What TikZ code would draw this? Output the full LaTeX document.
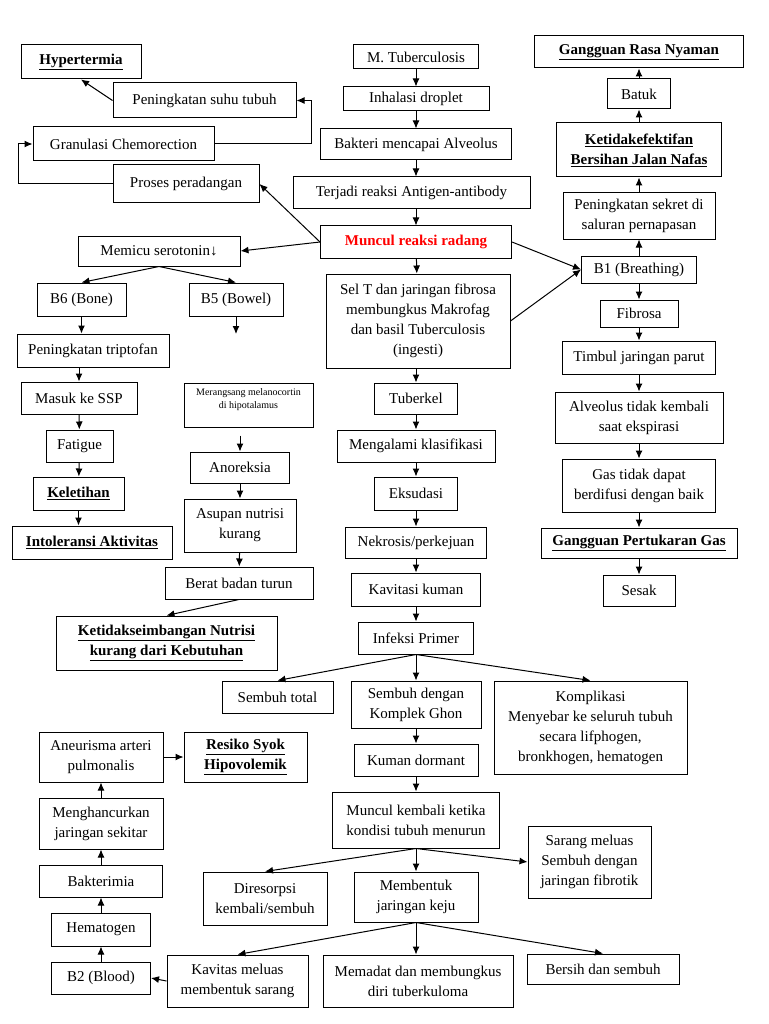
\documentclass[tikz,border=0pt]{standalone}
\usepackage{fontspec}
\setmainfont{Liberation Serif}
\usetikzlibrary{arrows.meta,calc,positioning}
\tikzset{
    >={Latex[length=8pt,width=7pt]}, % filled arrow heads
    every edge/.append style={line width=1pt},
    box/.style={draw, line width=1pt, align=center, inner sep=2pt,
        font=\fontsize{15}{20}\selectfont}, % all the boxes
    small/.style={font=\fontsize{10}{13}\selectfont},
}
\newcommand{\dxtext}[1]{\underline{\textbf{#1}}}

\begin{document}
\begin{tikzpicture}[x=1pt,y=-1pt]
  \useasboundingbox[fill=white] (0,0) rectangle (768,1024);

  % left top part
  \node[box,minimum width=120pt,minimum height=34pt] (hyper) at (81,62) {\dxtext{Hypertermia}};
  \node[box,minimum width=183pt,minimum height=35pt] (suhu) at (204.5,100.5) {Peningkatan suhu tubuh};
  \node[box,minimum width=181pt,minimum height=34pt] (granul) at (123.5,144) {Granulasi Chemorection};
  \node[box,minimum width=146pt,minimum height=38pt] (proses) at (186,184) {Proses peradangan};
  \node[box,minimum width=162pt,minimum height=30pt] (memicu) at (159,251) {Memicu serotonin↓};
  \node[box,minimum width=89pt,minimum height=33pt] (b6) at (81.5,299.5) {B6 (Bone)};
  \node[box,minimum width=94pt,minimum height=33pt] (b5) at (236,299.5) {B5 (Bowel)};
  \coordinate (b5stub) at (236,334);
  \node[box,minimum width=152pt,minimum height=33pt] (tript) at (93,350.5) {Peningkatan triptofan};
  \node[box,minimum width=116pt,minimum height=32pt] (ssp) at (79,398) {Masuk ke SSP};
  \node[box,minimum width=67pt,minimum height=32pt] (fatigue) at (79.5,446) {Fatigue};
  \node[box,minimum width=91pt,minimum height=33pt] (letih) at (78.5,493.5) {\dxtext{Keletihan}};
  \node[box,minimum width=160pt,minimum height=33pt] (intol) at (92,542.5) {\dxtext{Intoleransi Aktivitas}};
  \node[box,small,minimum width=129pt,minimum height=44pt,text depth=12pt] (merang) at (248.5,405) {Merangsang melanocortin\\di hipotalamus};
  \node[box,minimum width=99pt,minimum height=31pt] (anorek) at (240,467.5) {Anoreksia};
  \node[box,minimum width=112pt,minimum height=53pt] (asupan) at (240,525.5) {Asupan nutrisi\\kurang};
  \node[box,minimum width=148pt,minimum height=32pt] (berat) at (239,583) {Berat badan turun};
  \node[box,minimum width=221pt,minimum height=54pt] (nutrisi) at (166.5,643) {\dxtext{Ketidakseimbangan Nutrisi}\\\dxtext{kurang dari Kebutuhan}};

  % central column
  \node[box,minimum width=125pt,minimum height=24pt] (mtb) at (416,57) {M. Tuberculosis};
  \node[box,minimum width=146pt,minimum height=24pt] (inhal) at (416,99) {Inhalasi droplet};
  \node[box,minimum width=191pt,minimum height=31pt] (bakteri) at (416,144.5) {Bakteri mencapai Alveolus};
  \node[box,minimum width=237pt,minimum height=32pt] (terjadi) at (411.5,193) {Terjadi reaksi Antigen-antibody};
  \node[box,minimum width=191pt,minimum height=32pt,text=red] (radang) at (416,242) {\textbf{Muncul reaksi radang}};
  \node[box,minimum width=184pt,minimum height=94pt] (selt) at (418,321) {Sel T dan jaringan fibrosa\\membungkus Makrofag\\dan basil Tuberculosis\\(ingesti)};
  \node[box,minimum width=83pt,minimum height=31pt] (tuberkel) at (416,398.5) {Tuberkel};
  \node[box,minimum width=158pt,minimum height=32pt] (klasif) at (416,446) {Mengalami klasifikasi};
  \node[box,minimum width=83pt,minimum height=33pt] (eksud) at (416,493.5) {Eksudasi};
  \node[box,minimum width=141pt,minimum height=31pt] (nekrosis) at (416,542.5) {Nekrosis/perkejuan};
  \node[box,minimum width=129pt,minimum height=33pt] (kavitasi) at (416,589.5) {Kavitasi kuman};
  \node[box,minimum width=115pt,minimum height=32pt] (infeksi) at (416,638) {Infeksi Primer};
  \node[box,minimum width=111pt,minimum height=32pt] (stotal) at (277.5,697) {Sembuh total};
  \node[box,minimum width=130pt,minimum height=47pt] (ghon) at (416,704.5) {Sembuh dengan\\Komplek Ghon};
  \node[box,minimum width=193pt,minimum height=93pt] (kompli) at (590.5,727.5) {Komplikasi\\Menyebar ke seluruh tubuh\\secara lifphogen,\\bronkhogen, hematogen};
  \node[box,minimum width=124pt,minimum height=32pt] (dormant) at (416,760) {Kuman dormant};
  \node[box,minimum width=167pt,minimum height=56pt] (kembali) at (416,820) {Muncul kembali ketika\\kondisi tubuh menurun};
  \node[box,minimum width=124pt,minimum height=53pt] (dires) at (265,898.5) {Diresorpsi\\kembali/sembuh};
  \node[box,minimum width=124pt,minimum height=50pt] (keju) at (416,897) {Membentuk\\jaringan keju};
  \node[box,minimum width=123pt,minimum height=72pt] (sarang) at (589.5,862) {Sarang meluas\\Sembuh dengan\\jaringan fibrotik};
  \node[box,minimum width=141pt,minimum height=52pt] (kavmel) at (237.5,981) {Kavitas meluas\\membentuk sarang};
  \node[box,minimum width=190pt,minimum height=52pt] (memadat) at (418,981) {Memadat dan membungkus\\diri tuberkuloma};
  \node[box,minimum width=152pt,minimum height=30pt] (bersih) at (603,969) {Bersih dan sembuh};

  % left bottom part
  \node[box,minimum width=124pt,minimum height=50pt] (aneur) at (101,757) {Aneurisma arteri\\pulmonalis};
  \node[box,minimum width=123pt,minimum height=50pt] (syok) at (245.5,757) {\dxtext{Resiko Syok}\\\dxtext{Hipovolemik}};
  \node[box,minimum width=124pt,minimum height=51pt] (hancur) at (101,823.5) {Menghancurkan\\jaringan sekitar};
  \node[box,minimum width=123pt,minimum height=32pt] (bakterimia) at (101,881) {Bakterimia};
  \node[box,minimum width=99pt,minimum height=33pt] (hemato) at (101,929.5) {Hematogen};
  \node[box,minimum width=99pt,minimum height=32pt] (b2) at (101,978) {B2 (Blood)};

  % right column
  \node[box,minimum width=209pt,minimum height=32pt] (nyaman) at (639,52) {\dxtext{Gangguan Rasa Nyaman}};
  \node[box,minimum width=63pt,minimum height=30pt] (batuk) at (639,94) {Batuk};
  \node[box,minimum width=165pt,minimum height=54pt] (efektif) at (639,150) {\dxtext{Ketidakefektifan}\\\dxtext{Bersihan Jalan Nafas}};
  \node[box,minimum width=152pt,minimum height=46pt] (sekret) at (639,216) {Peningkatan sekret di\\saluran pernapasan};
  \node[box,minimum width=115pt,minimum height=27pt] (b1) at (639,269.5) {B1 (Breathing)};
  \node[box,minimum width=78pt,minimum height=27pt] (fibrosa) at (639,313.5) {Fibrosa};
  \node[box,minimum width=153pt,minimum height=33pt] (parut) at (639,357.5) {Timbul jaringan parut};
  \node[box,minimum width=168pt,minimum height=51pt] (alveol) at (639,417.5) {Alveolus tidak kembali\\saat ekspirasi};
  \node[box,minimum width=153pt,minimum height=53pt] (gas) at (639,485.5) {Gas tidak dapat\\berdifusi dengan baik};
  \node[box,minimum width=196pt,minimum height=30pt] (gpg) at (639,543) {\dxtext{Gangguan Pertukaran Gas}};
  \node[box,minimum width=72pt,minimum height=31pt] (sesak) at (639,590.5) {Sesak};

  \path[->]
    (mtb) edge (inhal)
    (inhal) edge (bakteri)
    (bakteri.south) edge (bakteri.south |- terjadi.north)
    (radang.north |- terjadi.south) edge (radang.north)
    (radang) edge (selt)
    (radang.west) edge (proses.east)
    (radang.west) edge (memicu.east)
    (radang.east) edge (b1.west)
    (selt.east) edge (b1.west)
    (suhu.west) edge (hyper.south)
    (memicu.south) edge (b6.north)
    (memicu.south) edge (b5.north)
    (b5) edge (b5stub)
    (b6.south) edge (b6.south |- tript.north)
    (ssp.north |- tript.south) edge (ssp.north)
    (ssp) edge (fatigue)
    (fatigue) edge (letih)
    (letih.south) edge (letih.south |- intol.north)
    (anorek.north |- merang.south) edge[shorten <=8pt] (anorek.north)
    (anorek) edge (asupan)
    (asupan) edge (berat)
    (berat.south) edge (nutrisi.north)
    (selt.south -| tuberkel.north) edge (tuberkel.north)
    (tuberkel) edge (klasif)
    (klasif) edge (eksud)
    (eksud) edge (nekrosis)
    (nekrosis) edge (kavitasi)
    (kavitasi) edge (infeksi)
    (infeksi.south) edge (stotal.north)
    (infeksi.south) edge (ghon.north)
    (infeksi.south) edge (kompli.north)
    (ghon) edge (dormant)
    (dormant) edge (kembali)
    (kembali.south) edge (dires.north)
    (kembali.south) edge (keju.north)
    (kembali.south) edge (sarang.west)
    (keju.south) edge (kavmel.north)
    (keju.south) edge (keju.south |- memadat.north)
    (keju.south) edge (bersih.north)
    (kavmel.west) edge (b2.east)
    (b2) edge (hemato)
    (hemato) edge (bakterimia)
    (bakterimia) edge (hancur)
    (hancur) edge (aneur)
    (aneur) edge (syok)
    (batuk) edge (nyaman)
    (efektif) edge (batuk)
    (sekret) edge (efektif)
    (b1) edge (sekret)
    (b1) edge (fibrosa)
    (fibrosa) edge (parut)
    (parut) edge (alveol)
    (alveol) edge (gas)
    (gas) edge (gpg)
    (gpg) edge (sesak);
  % elbow connectors
  \draw[->,line width=1pt] (granul.east) -- ++(97,0) |- (suhu.east);
  \draw[->,line width=1pt] (proses.west) -- ++(-94,0) |- (granul.west);
\end{tikzpicture}
\end{document}
